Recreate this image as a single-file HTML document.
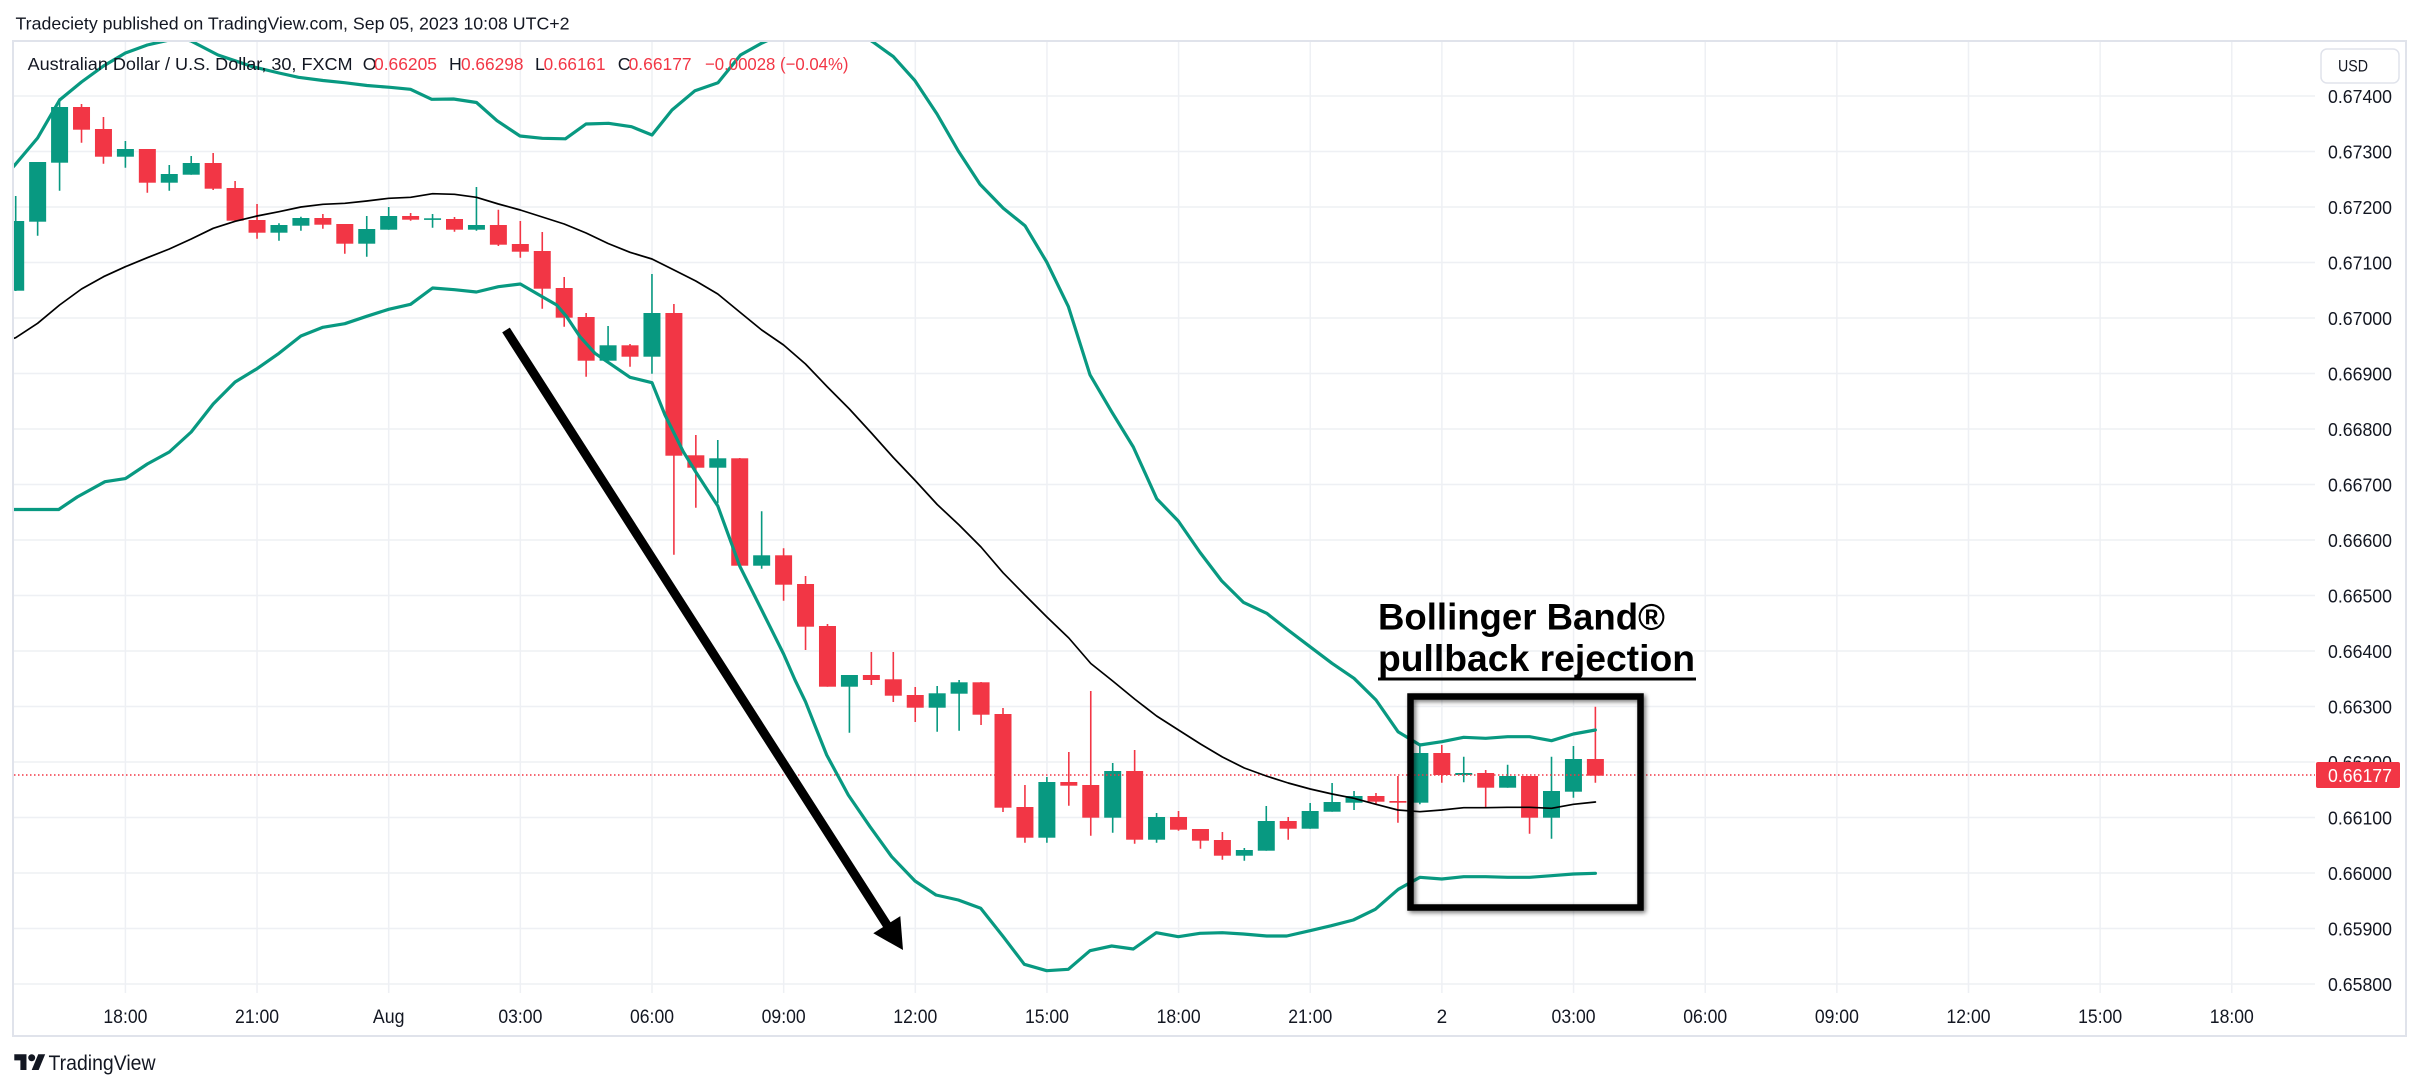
<!DOCTYPE html>
<html><head><meta charset="utf-8"><style>
html,body{margin:0;padding:0;background:#fff;}
svg{display:block;}
text{font-family:"Liberation Sans",Arial,sans-serif;}
</style></head><body>
<svg width="2421" height="1089" viewBox="0 0 2421 1089" xmlns="http://www.w3.org/2000/svg">
<defs>
<clipPath id="pane"><rect x="14" y="42" width="2301" height="951"/></clipPath>
<filter id="sh" x="-10%" y="-10%" width="130%" height="130%"><feGaussianBlur in="SourceAlpha" stdDeviation="2.5"/><feOffset dx="2" dy="2"/><feComponentTransfer><feFuncA type="linear" slope="0.55"/></feComponentTransfer><feMerge><feMergeNode/><feMergeNode in="SourceGraphic"/></feMerge></filter>
</defs>
<rect width="2421" height="1089" fill="#fff"/>
<text x="15.5" y="29.3" font-size="17.7" fill="#131722" textLength="554" lengthAdjust="spacingAndGlyphs">Tradeciety published on TradingView.com, Sep 05, 2023 10:08 UTC+2</text>
<rect x="13" y="41" width="2393" height="995" fill="#fff" stroke="#e0e3eb" stroke-width="2"/>

<!-- grid -->
<g stroke="#eef0f4" stroke-width="1.5">
<path d="M14 96H2315M14 151.5H2315M14 207H2315M14 262.5H2315M14 318H2315M14 373.5H2315M14 429H2315M14 484.5H2315M14 540H2315M14 595.5H2315M14 651H2315M14 706.5H2315M14 762H2315M14 817.5H2315M14 873H2315M14 928.5H2315M14 984H2315"/>
<path d="M125.4 42V993M257.05 42V993M388.7 42V993M520.35 42V993M652 42V993M783.65 42V993M915.3 42V993M1046.95 42V993M1178.6 42V993M1310.25 42V993M1441.9 42V993M1573.55 42V993M1705.2 42V993M1836.85 42V993M1968.5 42V993M2100.15 42V993M2231.8 42V993"/>
</g>

<g clip-path="url(#pane)">
<!-- green candles -->
<path stroke="#089981" stroke-width="1.6" fill="none" d="M15.7 196V291M37.64 162V235.7M59.58 98.3V190.7M125.4 141V167.7M169.28 165V190.7M191.22 156V174.7M278.98 223.3V240.7M300.92 216.7V230.7M366.74 216V256.7M388.68 207V229.7M432.56 214V227.7M476.44 187V230.7M608.08 326V360.7M651.96 274V373.7M717.78 440V503.3M761.66 511.3V568.7M849.42 675V732.7M937.18 686V731.7M959.12 680V730.7M1046.88 777V842.7M1112.7 763V832.7M1156.58 813V842.7M1244.34 848V860.7M1266.28 806V850.7M1310.16 803V828.7M1332.1 783V811.7M1354.04 791V810M1419.86 743.3V804.3M1463.74 756.7V782.3M1507.62 764.7V787.7M1551.5 756.7V838.7M1573.44 746V797.7"/>
<g fill="#089981">
<rect x="7.2" y="221" width="17" height="69.7"/>
<rect x="29.14" y="162" width="17" height="59.7"/>
<rect x="51.08" y="107" width="17" height="55.7"/>
<rect x="116.9" y="149" width="17" height="7.7"/>
<rect x="160.78" y="174" width="17" height="8.7"/>
<rect x="182.72" y="163" width="17" height="11.7"/>
<rect x="270.48" y="225" width="17" height="7.7"/>
<rect x="292.42" y="218" width="17" height="7.7"/>
<rect x="358.24" y="229" width="17" height="14.7"/>
<rect x="380.18" y="216" width="17" height="13.7"/>
<rect x="424.06" y="218.3" width="17" height="1.6"/>
<rect x="467.94" y="225" width="17" height="4.7"/>
<rect x="599.58" y="345.3" width="17" height="15.4"/>
<rect x="643.46" y="313" width="17" height="43.7"/>
<rect x="709.28" y="458.3" width="17" height="9.4"/>
<rect x="753.16" y="555.3" width="17" height="10.4"/>
<rect x="840.92" y="675" width="17" height="11.7"/>
<rect x="928.68" y="693.3" width="17" height="14.4"/>
<rect x="950.62" y="682.3" width="17" height="11.4"/>
<rect x="1038.38" y="782" width="17" height="55.7"/>
<rect x="1104.2" y="771" width="17" height="46.7"/>
<rect x="1148.08" y="817" width="17" height="22.7"/>
<rect x="1235.84" y="850" width="17" height="5.7"/>
<rect x="1257.78" y="821" width="17" height="29.7"/>
<rect x="1301.66" y="811" width="17" height="17.7"/>
<rect x="1323.6" y="802" width="17" height="9.7"/>
<rect x="1345.54" y="796" width="17" height="6.7"/>
<rect x="1411.36" y="753" width="17" height="49.7"/>
<rect x="1455.24" y="773" width="17" height="2"/>
<rect x="1499.12" y="776" width="17" height="11.7"/>
<rect x="1543" y="791" width="17" height="26.7"/>
<rect x="1564.94" y="759" width="17" height="32.7"/>
</g>
<!-- red candles -->
<path stroke="#f23645" stroke-width="1.6" fill="none" d="M81.52 104V142.7M103.46 117V163.7M147.34 149V192.7M213.16 153V190M235.1 181V220.7M257.04 204V238.7M322.86 214V228.7M344.8 224V253.7M410.62 213V220.7M454.5 217V231.7M498.38 209.7V246M520.32 221V257.7M542.26 232V308.7M564.2 277V326.7M586.14 313V376.7M630.02 344V366.7M673.9 304V554.7M695.84 435V507.7M739.72 458V566M783.6 548.3V600.7M805.54 576V650M827.48 624V686.7M871.36 652V685M893.3 652V702M915.24 687V722M981.06 682V725M1003 708V812M1024.94 785V842.7M1068.82 752V805.7M1090.76 691V835.7M1134.64 750V843.7M1178.52 811V830.7M1200.46 829V848.7M1222.4 832V859.7M1288.22 817V839.7M1375.98 793V805M1397.92 776V822.7M1441.8 745V782.7M1485.68 770V807.7M1529.56 776V833.7M1595.38 706.7V782.7"/>
<g fill="#f23645">
<rect x="73.02" y="107" width="17" height="22.7"/>
<rect x="94.96" y="129" width="17" height="27.7"/>
<rect x="138.84" y="149" width="17" height="33.7"/>
<rect x="204.66" y="163" width="17" height="25.7"/>
<rect x="226.6" y="188" width="17" height="32.7"/>
<rect x="248.54" y="220" width="17" height="12.7"/>
<rect x="314.36" y="218" width="17" height="6.7"/>
<rect x="336.3" y="224" width="17" height="19.7"/>
<rect x="402.12" y="216" width="17" height="3.7"/>
<rect x="446" y="219" width="17" height="10.7"/>
<rect x="489.88" y="225" width="17" height="19.7"/>
<rect x="511.82" y="244" width="17" height="7.7"/>
<rect x="533.76" y="251" width="17" height="37.7"/>
<rect x="555.7" y="288" width="17" height="29.7"/>
<rect x="577.64" y="317" width="17" height="43.7"/>
<rect x="621.52" y="345.3" width="17" height="11.4"/>
<rect x="665.4" y="313" width="17" height="142.7"/>
<rect x="687.34" y="455.3" width="17" height="12.4"/>
<rect x="731.22" y="458.3" width="17" height="107.4"/>
<rect x="775.1" y="555.3" width="17" height="29.4"/>
<rect x="797.04" y="584" width="17" height="42.7"/>
<rect x="818.98" y="626" width="17" height="60.7"/>
<rect x="862.86" y="675" width="17" height="5"/>
<rect x="884.8" y="679.3" width="17" height="16.4"/>
<rect x="906.74" y="695" width="17" height="12.7"/>
<rect x="972.56" y="682.3" width="17" height="32.4"/>
<rect x="994.5" y="714" width="17" height="93.7"/>
<rect x="1016.44" y="807" width="17" height="30.7"/>
<rect x="1060.32" y="782" width="17" height="3.7"/>
<rect x="1082.26" y="785" width="17" height="32.7"/>
<rect x="1126.14" y="771" width="17" height="68.7"/>
<rect x="1170.02" y="817" width="17" height="12.7"/>
<rect x="1191.96" y="829" width="17" height="11.7"/>
<rect x="1213.9" y="840" width="17" height="15.7"/>
<rect x="1279.72" y="821" width="17" height="7.7"/>
<rect x="1367.48" y="796" width="17" height="5.7"/>
<rect x="1389.42" y="801" width="17" height="1.7"/>
<rect x="1433.3" y="753" width="17" height="22"/>
<rect x="1477.18" y="773" width="17" height="14.7"/>
<rect x="1521.06" y="776" width="17" height="41.7"/>
<rect x="1586.88" y="759" width="17" height="16.7"/>
</g>

<!-- current price line -->
<path d="M14 775H2315" stroke="#f23645" stroke-width="1.4" stroke-dasharray="1.5 2.5"/>

<!-- bollinger bands -->
<g fill="none" stroke-linejoin="round" stroke-linecap="round">
<polyline stroke="#089981" stroke-width="3.2" points="13,167 15.7,164 37.6,138 59.6,100 81.5,82 103.5,66 125.4,53 147.3,45 169.3,40 180,38 191,41 218,55 252.6,66.7 279,73 298.5,77.3 323,80.5 344.4,82.7 367,85.5 390,87.3 410.5,89.3 431.7,99.3 453.5,99 476.5,102.5 497,120.7 520,136 542.3,138.3 565.4,138.8 586,124 608.5,123.3 631.5,126.7 652,135 672,110 695,90.7 718,82.7 740.5,55 762,43 784,33 806,25 828,20 850,27 873,42 893.3,56.6 915,80.7 937,114 958.3,151 980,184.3 1003.3,208.3 1025,225.7 1046.7,262 1068.3,306.4 1090,374.8 1111.7,411.8 1133.3,447 1156.7,498.7 1178.3,521 1200,552.4 1221.7,580.9 1243.3,602.3 1266.7,613.3 1288,630 1310,646.7 1332,663.3 1354,678.3 1376,700 1398,731.7 1419.9,745 1441.8,741.7 1463.7,737.3 1485.7,738.3 1507.6,736.7 1529.6,736.7 1551.5,740.7 1573.4,734 1595.4,730"/>
<polyline stroke="#000" stroke-width="1.7" points="13,338.6 15.7,337.7 37.6,323.3 59.6,305 81.5,289 103.5,276.7 125.4,266.7 147.3,257.7 169.3,249 191.2,239 213.2,228.3 235.1,221.3 257,216 279,211.7 300.9,207 322.9,204.3 344.8,203.3 366.7,201 388.7,198.3 410.6,197.3 432.6,193.7 454.5,194.3 476.4,197.3 498.4,204 520.3,210 542.3,217 564.2,224 586.1,233 608.1,243.5 630,252.3 652,259 674,270 695.8,281 717.8,294 739.7,312 761.7,330 783.6,345 805.5,364 827.5,387 849.4,409 871.4,433 893.3,457.5 915.2,480.5 937.2,504.5 959.1,525 981,547 1003,572.7 1024.9,595 1046.9,617 1068.8,638 1090.8,663.5 1112.7,681 1134.6,699 1156.6,716 1178.5,730 1200.5,744 1222.4,757 1244.3,768 1266.3,776 1288.2,783 1310.2,789 1332.1,794 1354,798.3 1376,804.3 1397.9,810 1419.9,811.7 1441.8,810 1463.7,807.7 1485.7,807.7 1507.6,807.3 1529.6,807.3 1551.5,808.3 1573.4,804.3 1595.4,802"/>
<polyline stroke="#089981" stroke-width="3.2" points="13,509.5 58.7,509.5 77.2,497 105,481.7 125.4,478.6 147.3,464 169.3,452 191.2,432 213.2,404 235.1,382 257,368.7 279,353.3 300.9,336 322.9,327.3 344.8,323.7 366.7,316.3 388.7,309.3 410.6,304.3 432.6,288 454.5,289.7 476.4,292 498.4,286.7 520.3,284 542.3,296.7 556.7,305 566.7,316.7 580,336.7 595,353.3 630,377.3 652,382.7 665,415 683.3,451.7 695.8,472 717.8,506 739.7,566 761.7,610 783.6,654 795,680 805.5,701.7 816.7,730 826.7,755 848.3,795 870,826.7 891.7,856.7 915,881 936,895 958.3,900 980.7,908.3 1003.3,936.7 1024.3,964.3 1046.7,970.7 1068.3,969.3 1090,950.7 1111.7,946 1133.3,949 1156.3,932.7 1178.3,936.7 1200,933.3 1222.3,932.7 1243.3,934 1266.7,936 1286.7,936 1310,930.7 1331.3,925.7 1353.3,920 1375.3,909.3 1398.3,889.3 1419.9,877.3 1441.8,879 1463.7,876.7 1485.7,876.7 1507.6,877.3 1529.6,877.3 1551.5,875.7 1573.4,874 1595.4,873.3"/>
</g>

<!-- annotations -->
<line x1="506" y1="330" x2="887" y2="925" stroke="#000" stroke-width="9"/>
<polygon points="903,950 900.3,916.1 873.3,933.3" fill="#000"/>
<rect x="1410.5" y="696.5" width="230" height="211" fill="none" stroke="#000" stroke-width="6.5" filter="url(#sh)"/>
<text x="1378" y="629.3" font-size="37" font-weight="bold" fill="#000" textLength="287" lengthAdjust="spacingAndGlyphs">Bollinger Band®</text>
<text x="1378" y="671" font-size="37" font-weight="bold" fill="#000" textLength="317" lengthAdjust="spacingAndGlyphs">pullback rejection</text>
<rect x="1378" y="677.5" width="318" height="3" fill="#000"/>
</g>

<!-- legend -->
<g font-size="17.7">
<text x="27.6" y="70" fill="#131722" textLength="325" lengthAdjust="spacingAndGlyphs">Australian Dollar / U.S. Dollar, 30, FXCM</text>
<text x="362.8" y="70" fill="#131722">O</text>
<text x="374" y="70" fill="#f23645" textLength="63" lengthAdjust="spacingAndGlyphs">0.66205</text>
<text x="449" y="70" fill="#131722">H</text>
<text x="461" y="70" fill="#f23645" textLength="62.5" lengthAdjust="spacingAndGlyphs">0.66298</text>
<text x="535" y="70" fill="#131722">L</text>
<text x="543.6" y="70" fill="#f23645" textLength="62" lengthAdjust="spacingAndGlyphs">0.66161</text>
<text x="617.7" y="70" fill="#131722">C</text>
<text x="628.6" y="70" fill="#f23645" textLength="63" lengthAdjust="spacingAndGlyphs">0.66177</text>
<text x="705" y="70" fill="#f23645" textLength="143.5" lengthAdjust="spacingAndGlyphs">−0.00028 (−0.04%)</text>
</g>

<!-- price axis -->
<rect x="2321" y="49" width="78" height="34" rx="6" fill="#fff" stroke="#e0e3eb" stroke-width="1.5"/>
<text x="2353" y="71.5" font-size="17" fill="#131722" text-anchor="middle" textLength="30" lengthAdjust="spacingAndGlyphs">USD</text>
<g font-size="18.5" fill="#131722">
<text x="2328" y="103" textLength="64" lengthAdjust="spacingAndGlyphs">0.67400</text>
<text x="2328" y="158.5" textLength="64" lengthAdjust="spacingAndGlyphs">0.67300</text>
<text x="2328" y="214" textLength="64" lengthAdjust="spacingAndGlyphs">0.67200</text>
<text x="2328" y="269.5" textLength="64" lengthAdjust="spacingAndGlyphs">0.67100</text>
<text x="2328" y="325" textLength="64" lengthAdjust="spacingAndGlyphs">0.67000</text>
<text x="2328" y="380.5" textLength="64" lengthAdjust="spacingAndGlyphs">0.66900</text>
<text x="2328" y="436" textLength="64" lengthAdjust="spacingAndGlyphs">0.66800</text>
<text x="2328" y="491.5" textLength="64" lengthAdjust="spacingAndGlyphs">0.66700</text>
<text x="2328" y="547" textLength="64" lengthAdjust="spacingAndGlyphs">0.66600</text>
<text x="2328" y="602.5" textLength="64" lengthAdjust="spacingAndGlyphs">0.66500</text>
<text x="2328" y="658" textLength="64" lengthAdjust="spacingAndGlyphs">0.66400</text>
<text x="2328" y="713.5" textLength="64" lengthAdjust="spacingAndGlyphs">0.66300</text>
<text x="2328" y="769" textLength="64" lengthAdjust="spacingAndGlyphs">0.66200</text>
<text x="2328" y="824.5" textLength="64" lengthAdjust="spacingAndGlyphs">0.66100</text>
<text x="2328" y="880" textLength="64" lengthAdjust="spacingAndGlyphs">0.66000</text>
<text x="2328" y="935.5" textLength="64" lengthAdjust="spacingAndGlyphs">0.65900</text>
<text x="2328" y="991" textLength="64" lengthAdjust="spacingAndGlyphs">0.65800</text>
</g>
<rect x="2316" y="762" width="84" height="26" rx="2" fill="#f23645"/>
<text x="2328" y="782" font-size="18.5" fill="#fff" textLength="64" lengthAdjust="spacingAndGlyphs">0.66177</text>

<!-- time axis -->
<g font-size="19" fill="#131722" text-anchor="middle">
<text x="125.4" y="1023" textLength="44" lengthAdjust="spacingAndGlyphs">18:00</text>
<text x="257.05" y="1023" textLength="44" lengthAdjust="spacingAndGlyphs">21:00</text>
<text x="388.7" y="1023" textLength="31.6" lengthAdjust="spacingAndGlyphs">Aug</text>
<text x="520.35" y="1023" textLength="44" lengthAdjust="spacingAndGlyphs">03:00</text>
<text x="652" y="1023" textLength="44" lengthAdjust="spacingAndGlyphs">06:00</text>
<text x="783.65" y="1023" textLength="44" lengthAdjust="spacingAndGlyphs">09:00</text>
<text x="915.3" y="1023" textLength="44" lengthAdjust="spacingAndGlyphs">12:00</text>
<text x="1046.95" y="1023" textLength="44" lengthAdjust="spacingAndGlyphs">15:00</text>
<text x="1178.6" y="1023" textLength="44" lengthAdjust="spacingAndGlyphs">18:00</text>
<text x="1310.25" y="1023" textLength="44" lengthAdjust="spacingAndGlyphs">21:00</text>
<text x="1441.9" y="1023">2</text>
<text x="1573.55" y="1023" textLength="44" lengthAdjust="spacingAndGlyphs">03:00</text>
<text x="1705.2" y="1023" textLength="44" lengthAdjust="spacingAndGlyphs">06:00</text>
<text x="1836.85" y="1023" textLength="44" lengthAdjust="spacingAndGlyphs">09:00</text>
<text x="1968.5" y="1023" textLength="44" lengthAdjust="spacingAndGlyphs">12:00</text>
<text x="2100.15" y="1023" textLength="44" lengthAdjust="spacingAndGlyphs">15:00</text>
<text x="2231.8" y="1023" textLength="44" lengthAdjust="spacingAndGlyphs">18:00</text>
</g>

<!-- TradingView logo -->
<g transform="translate(14.3,1050.8) scale(0.87)" fill="#131722">
<path d="M14 22H7V11H0V4h14v18z"/>
<circle cx="20" cy="8" r="4"/>
<path d="M28 22h-8l7.5-18h8L28 22z"/>
</g>
<text x="48.5" y="1070" font-size="21" fill="#131722" textLength="107" lengthAdjust="spacingAndGlyphs">TradingView</text>
</svg>
</body></html>
